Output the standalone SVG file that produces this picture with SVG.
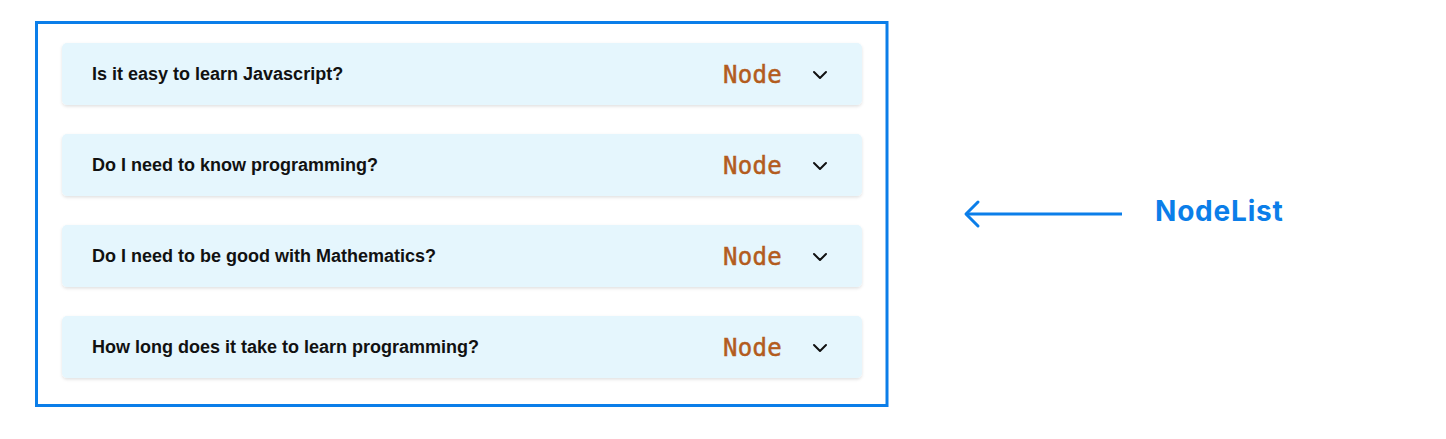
<svg xmlns="http://www.w3.org/2000/svg" width="1446" height="439" viewBox="0 0 1446 439">
<style>
.card{fill:#e5f6fd;}
.q{font-family:"Liberation Sans",Arial,sans-serif;font-size:18px;font-weight:bold;fill:#111;}
.node{font-family:"DejaVu Sans Mono",monospace;font-size:24px;fill:#b35c1e;stroke:#b35c1e;stroke-width:0.5;letter-spacing:0.3px;}
.chev{fill:none;stroke:#111;stroke-width:2;stroke-linecap:round;stroke-linejoin:round;}
</style>
<defs>
<filter id="sh" x="-5%" y="-20%" width="110%" height="150%">
<feDropShadow dx="0" dy="1.5" stdDeviation="1.5" flood-color="#000" flood-opacity="0.12"/>
</filter>
</defs>
<rect width="1446" height="439" fill="#fff"/>
<g id="nodelist">
<rect x="36.5" y="22.5" width="850.5" height="383" fill="none" stroke="#0b7ee9" stroke-width="3"/>
</g>
<g id="node1">
<rect class="card" x="62" y="43" width="800" height="62" rx="5" filter="url(#sh)"/>
<text class="q" x="92" y="80">Is it easy to learn Javascript?</text>
<text class="node" x="723" y="83">Node</text>
<polyline class="chev" points="814,72 820,78 826,72"/>
</g>
<g id="node2">
<rect class="card" x="62" y="134" width="800" height="62" rx="5" filter="url(#sh)"/>
<text class="q" x="92" y="171">Do I need to know programming?</text>
<text class="node" x="723" y="174">Node</text>
<polyline class="chev" points="814,163 820,169 826,163"/>
</g>
<g id="node3">
<rect class="card" x="62" y="225" width="800" height="62" rx="5" filter="url(#sh)"/>
<text class="q" x="92" y="262">Do I need to be good with Mathematics?</text>
<text class="node" x="723" y="265">Node</text>
<polyline class="chev" points="814,254 820,260 826,254"/>
</g>
<g id="node4">
<rect class="card" x="62" y="316" width="800" height="62" rx="5" filter="url(#sh)"/>
<text class="q" x="92" y="353">How long does it take to learn programming?</text>
<text class="node" x="723" y="356">Node</text>
<polyline class="chev" points="814,345 820,351 826,345"/>
</g>
<g id="connectors">
<line x1="1122" y1="214" x2="966" y2="214" stroke="#0b7ee9" stroke-width="3"/>
<polyline points="978,202 966,214 978,226" fill="none" stroke="#0b7ee9" stroke-width="3" stroke-linecap="round" stroke-linejoin="round"/>
</g>
<g id="label">
<text x="1155" y="221" font-family="Inter,'Liberation Sans',sans-serif" font-size="28" font-weight="bold" letter-spacing="0.8" fill="#0b7ee9">NodeList</text>
</g>
</svg>
